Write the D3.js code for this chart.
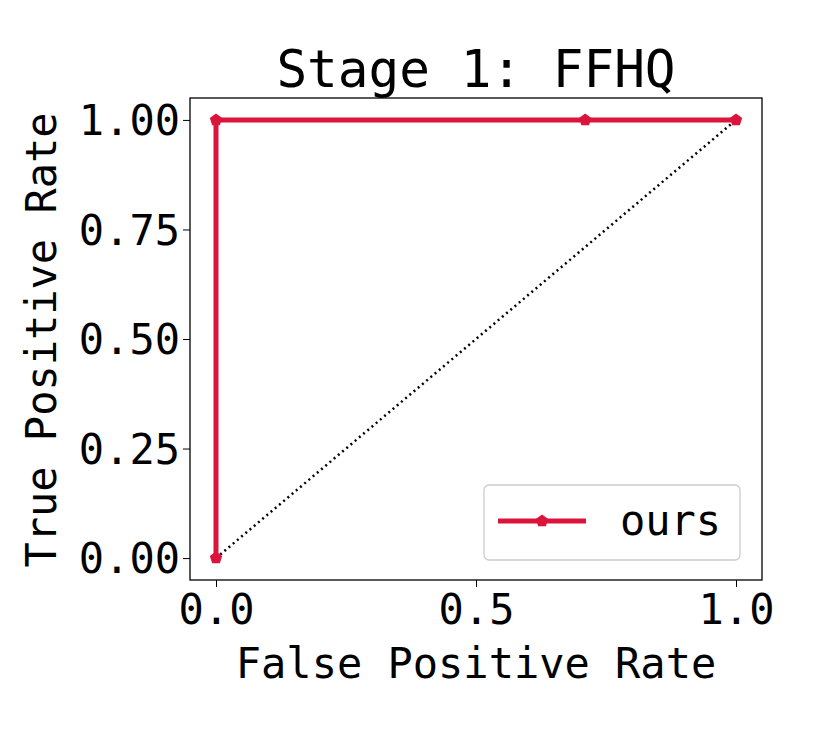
<!DOCTYPE html>
<html><head><meta charset="utf-8">
<script src="https://cdn.jsdelivr.net/npm/d3@7"></script>
<style>body{margin:0;background:#fff}text{font-family:"DejaVu Sans Mono",monospace}</style>
</head><body>
<svg width="830" height="738"></svg>
<script>
// ROC points
const fpr = [0, 0, 0.71, 1]
const tpr = [0, 1, 1, 1]
const xTicks = [0, 0.5, 1]
const yTicks = [0, 0.25, 0.5, 0.75, 1]

const svg = d3.select('svg')
const L = 190, R = 762, T = 98, B = 580
const x = d3.scaleLinear().domain([-0.05, 1.05]).range([L, R])
const y = d3.scaleLinear().domain([-0.05, 1.05]).range([B, T])

svg.append('g').attr('transform', `translate(0,${B})`)
  .call(d3.axisBottom(x).tickValues(xTicks).tickFormat(d3.format('.1f')).tickSizeOuter(0).tickSize(7))
  .call(g => g.selectAll('text').attr('font-size', 42).attr('dy', '0.8em').attr('fill', '#000'))
svg.append('g').attr('transform', `translate(${L},0)`)
  .call(d3.axisLeft(y).tickValues(yTicks).tickFormat(d3.format('.2f')).tickSizeOuter(0).tickSize(7))
  .call(g => g.selectAll('text').attr('font-size', 42).attr('dy', '0.35em').attr('fill', '#000'))
svg.selectAll('.domain').remove()
svg.append('rect').attr('x', L).attr('y', T).attr('width', R - L).attr('height', B - T)
  .attr('fill', 'none').attr('stroke', '#000').attr('stroke-width', 1.3)

// diagonal
svg.append('line').attr('x1', x(0)).attr('y1', y(0)).attr('x2', x(1)).attr('y2', y(1))
  .attr('stroke', '#000').attr('stroke-width', 2.5).attr('stroke-dasharray', '2,3.5')

const pts = fpr.map((f, i) => [f, tpr[i]])
svg.append('path').datum(pts)
  .attr('d', d3.line().x(d => x(d[0])).y(d => y(d[1])))
  .attr('fill', 'none').attr('stroke', 'crimson').attr('stroke-width', 5)
const pentagon = r => d3.range(5).map(k => {
  const a = -Math.PI / 2 + k * 2 * Math.PI / 5
  return [r * Math.cos(a), r * Math.sin(a)]
}).join('L')
svg.selectAll('.m').data(pts).enter().append('path')
  .attr('d', 'M' + pentagon(6.5) + 'Z')
  .attr('transform', d => `translate(${x(d[0])},${y(d[1])})`)
  .attr('fill', 'crimson')

// title and labels
svg.append('text').attr('x', 476).attr('y', 87).attr('text-anchor', 'middle')
  .attr('font-size', 51).text('Stage 1: FFHQ')
svg.append('text').attr('x', 476).attr('y', 678).attr('text-anchor', 'middle')
  .attr('font-size', 42).text('False Positive Rate')
svg.append('text').attr('transform', `translate(56,340) rotate(-90)`)
  .attr('text-anchor', 'middle').attr('font-size', 42).text('True Positive Rate')

// legend
const lg = svg.append('g')
lg.append('rect').attr('x', 484).attr('y', 485).attr('width', 256).attr('height', 75).attr('rx', 5)
  .attr('fill', '#fff').attr('stroke', '#ccc').attr('stroke-width', 1.3)
lg.append('line').attr('x1', 498).attr('x2', 586).attr('y1', 521).attr('y2', 521)
  .attr('stroke', 'crimson').attr('stroke-width', 5)
lg.append('path').attr('d', 'M' + pentagon(6.5) + 'Z').attr('transform', 'translate(542,521)').attr('fill', 'crimson')
lg.append('text').attr('x', 620).attr('y', 535).attr('font-size', 42).text('ours')
</script>
</body></html>
